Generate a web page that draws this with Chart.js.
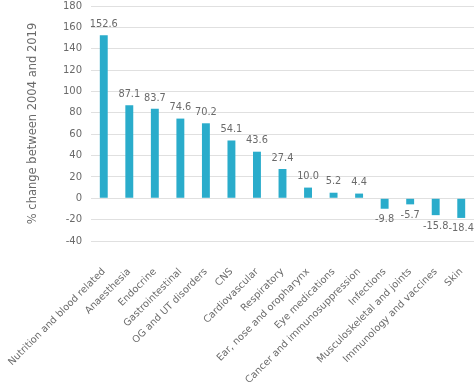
<!DOCTYPE html>
<html><head><meta charset="utf-8">
<script src="https://cdn.jsdelivr.net/npm/chart.js@4"></script>
<style>html,body{margin:0;padding:0;background:#fff}#w{width:474px;height:387px}</style>
</head><body><div id="w"><canvas id="c"></canvas></div>
<script>
const categories = ["Nutrition and blood related","Anaesthesia","Endocrine","Gastrointestinal","OG and UT disorders","CNS","Cardiovascular","Respiratory","Ear, nose and oropharynx","Eye medications","Cancer and immunosuppression","Infections","Musculoskeletal and joints","Immunology and vaccines","Skin"];
const values = [152.6,87.1,83.7,74.6,70.2,54.1,43.6,27.4,10.0,5.2,4.4,-9.8,-5.7,-15.8,-18.4];
const yTicks = [-40,-20,0,20,40,60,80,100,120,140,160,180];
const FONT = "'DejaVu Sans', sans-serif";
const TXT = '#6a6a6a';

const labelPlugin = {
  id:'vals',
  afterDatasetsDraw(chart){
    const ctx = chart.ctx, meta = chart.getDatasetMeta(0);
    ctx.save();
    ctx.font = "9.8px " + FONT;
    ctx.fillStyle = TXT;
    ctx.textAlign = 'center';
    meta.data.forEach((bar,i)=>{
      const v = values[i];
      if (v >= 0) { ctx.textBaseline='bottom'; ctx.fillText(v.toFixed(1), bar.x, bar.y-6); }
      else { ctx.textBaseline='top'; ctx.fillText(v.toFixed(1), bar.x, bar.y+6); }
    });
    ctx.restore();
  }
};

new Chart(document.getElementById('c'), {
  type:'bar',
  data:{labels:categories, datasets:[{data:values, backgroundColor:'#2aaccb', categoryPercentage:1, barPercentage:0.31}]},
  options:{
    responsive:true, maintainAspectRatio:false, animation:false,
    layout:{padding:{top:6,right:0,left:0,bottom:0}},
    plugins:{legend:{display:false}, tooltip:{enabled:false}},
    scales:{
      x:{
        grid:{display:false}, border:{display:false},
        ticks:{color:TXT, font:{family:FONT,size:9.8}, minRotation:45, maxRotation:45, padding:17, autoSkip:false},
        afterFit(s){ s.height = 146; s.paddingLeft = 0; s.paddingRight = 0; }
      },
      y:{
        min:-40, max:180,
        afterBuildTicks(s){ s.ticks = yTicks.map(v=>({value:v})); },
        grid:{color:'#e0e0e0', drawTicks:false}, border:{display:false},
        ticks:{color:TXT, font:{family:FONT,size:10}, padding:9},
        title:{display:true, text:'% change between 2004 and 2019', color:TXT, font:{family:FONT,size:11.5}, padding:{top:26,bottom:0}},
        afterFit(s){ s.width = 91; s.paddingTop = 0; s.paddingBottom = 0; }
      }
    }
  },
  plugins:[labelPlugin]
});
</script></body></html>
